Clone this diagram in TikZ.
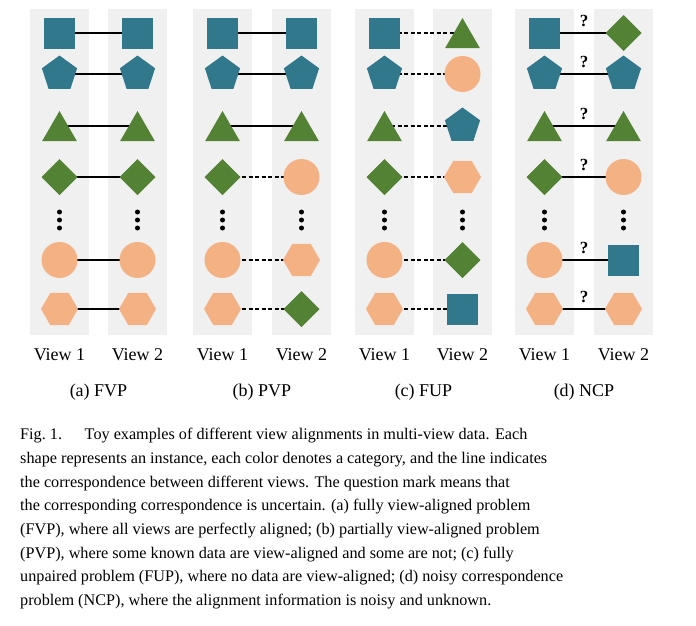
\documentclass[tikz,border=0pt]{standalone}
\usepackage{fontspec}
\setmainfont{Liberation Serif}
\usetikzlibrary{shapes.geometric,decorations.markings}

\definecolor{teal}{HTML}{31788C}
\definecolor{leaf}{HTML}{548235}
\definecolor{peach}{HTML}{F4B183}
\definecolor{viewbg}{HTML}{F0F0F0}

\tikzset{
  inst/.style={draw=none, inner sep=0pt, outer sep=0pt},
  sq/.style={inst, fill=teal, rectangle, minimum size=31pt},
  pent/.style={inst, fill=teal, regular polygon, regular polygon sides=5, minimum size=37pt},
  tri/.style={inst, fill=leaf, regular polygon, regular polygon sides=3, minimum size=40pt, yshift=-5pt},
  dia/.style={inst, fill=leaf, diamond, aspect=1, minimum size=36pt},
  circ/.style={inst, fill=peach, circle, minimum size=36pt},
  hexa/.style={inst, fill=peach, regular polygon, regular polygon sides=6, minimum size=37pt},
  pair/.style={line width=1.6pt},
  unpair/.style={line width=1.4pt, dash pattern=on 4pt off 2.5pt},
  noisy/.style={line width=1.6pt, decoration={markings, mark=at position .5 with {\node[font=\bfseries\fontsize{17}{17}\selectfont] at (0,12pt) {?};}}, postaction=decorate},
  viewlab/.style={font=\fontsize{18}{18}\selectfont},
  caplab/.style={font=\fontsize{18}{18}\selectfont},
}

% one panel: #1 id, #2 left x, #3 right x, #4 caption, #5 rows
\newcommand\viewpanel[5]{%
  \fill[viewbg] (#2-29.5,9) rectangle (#2+29.5,335);
  \fill[viewbg] (#3-29.5,9) rectangle (#3+29.5,335);
  \foreach \ls/\rs/\es [count=\i] in {#5} {
    \pgfmathsetmacro\yy{{33,74,126,177,260,309}[\i-1]}
    \coordinate (#1p\i) at (#2,\yy);
    \coordinate (#1q\i) at (#3,\yy);
    \draw[\es] (#1p\i) -- (#1q\i);
    \node[\ls] (#1l\i) at (#1p\i) {};
    \node[\rs] (#1r\i) at (#1q\i) {};
  }
  \foreach \dy in {-8,0,8} {
    \fill (#2,220+\dy) circle (2.5pt);
    \fill (#3,220+\dy) circle (2.5pt);
  }
  \node[viewlab] (#1v1) at (#2,355) {View 1};
  \node[viewlab] (#1v2) at (#3,355) {View 2};
  \node[caplab] (#1cap) at ({(#2+#3)/2},392) {#4};
}

\begin{document}
\begin{tikzpicture}[x=1pt, y=-1pt]
\useasboundingbox (0,0) rectangle (696,625);

\viewpanel{a}{59.5}{137.5}{(a) FVP}{sq/sq/pair, pent/pent/pair, tri/tri/pair, dia/dia/pair, circ/circ/pair, hexa/hexa/pair}
\viewpanel{b}{222.5}{301.5}{(b) PVP}{sq/sq/pair, pent/pent/pair, tri/tri/pair, dia/circ/unpair, circ/hexa/unpair, hexa/dia/unpair}
\viewpanel{c}{384.5}{462.5}{(c) FUP}{sq/tri/unpair, pent/circ/unpair, tri/pent/unpair, dia/hexa/unpair, circ/dia/unpair, hexa/sq/unpair}
\viewpanel{d}{544.5}{623.5}{(d) NCP}{sq/dia/noisy, pent/pent/noisy, tri/tri/noisy, dia/circ/noisy, circ/sq/noisy, hexa/hexa/noisy}

\node[anchor=north west, inner sep=0pt, align=left,
  font=\fontsize{16.2}{23.7}\selectfont] (figcap) at (20,428) {%
Fig.~1.\hspace{1.4em}Toy examples of different view alignments in multi-view data. Each\\
shape represents an instance, each color denotes a category, and the line indicates\\
the correspondence between different views. The question mark means that\\
the corresponding correspondence is uncertain. (a) fully view-aligned problem\\
(FVP), where all views are perfectly aligned; (b) partially view-aligned problem\\
(PVP), where some known data are view-aligned and some are not; (c) fully\\
unpaired problem (FUP), where no data are view-aligned; (d) noisy correspondence\\
problem (NCP), where the alignment information is noisy and unknown.};
\end{tikzpicture}
\end{document}
